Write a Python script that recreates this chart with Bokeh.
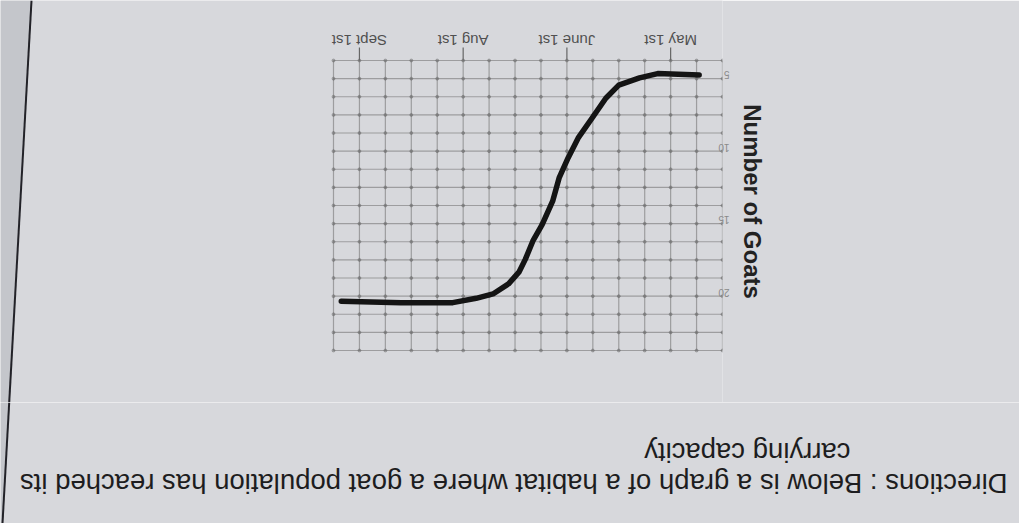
import math
from bokeh.plotting import figure
from bokeh.layouts import column
from bokeh.models import Range1d, FixedTicker, LinearAxis
from bokeh.core.properties import value
from bokeh.embed import file_html
from bokeh.resources import INLINE

# ---- data (read from the photographed, upside-down worksheet) ----
weeks = [0.9, 2.5, 3.2, 4.0, 4.5, 5.0, 5.55, 5.95, 6.3, 6.55, 6.95,
         7.3, 7.6, 7.85, 8.25, 8.85, 9.5, 10.4, 11.45, 12.4, 14.7]
goats = [5.0, 4.9, 5.2, 5.7, 6.6, 7.9, 9.3, 10.7, 12.1, 13.7, 15.3,
         16.4, 17.7, 18.6, 19.4, 20.1, 20.4, 20.7, 20.7, 20.7, 20.6]
date_ticks = [2, 6, 10, 14]
date_labels = ["May 1st", "June 1st", "Aug 1st", "Sept 1st"]
goat_ticks = [5, 10, 15, 20]
goat_labels = ["5", "10", "15", "20"]
week_cells = list(range(0, 16))
goat_cells = [4 + 1.25 * k for k in range(17)]
directions_1 = "Directions : Below is a graph of a habitat where a goat population has reached its"
directions_2 = "carrying capacity"

# ---- page layout (pixels) ----
W, H = 1019, 523
CHART_BOTTOM = 402                      # chart figure covers page y 0..402
GRID_L, GRID_R, GRID_T, GRID_B = 333, 722, 60, 350
EDGE_X_TOP, EDGE_X_BOTTOM = 31, 2       # slanted page edge in the photo
TICK_TOP, LABEL_Y = 47, 40

paper = "#d7d8dc"
shade = "#c4c6cb"
ink = "#1d1d20"
grid_col = "#777777"

# data ranges (x and y reversed: the sheet was photographed upside down)
x_lo, x_hi = week_cells[0], week_cells[-1]
y_lo, y_hi = goat_cells[0], goat_cells[-1]
px_x = (GRID_R - GRID_L) / (x_hi - x_lo)
px_y = (GRID_B - GRID_T) / (y_hi - y_lo)
x_range = Range1d(x_hi + GRID_L / px_x, x_lo)
y_range = Range1d(y_hi + (CHART_BOTTOM - GRID_B) / px_y, y_lo - GRID_T / px_y)


def edge_x(y):
    return EDGE_X_TOP + (EDGE_X_BOTTOM - EDGE_X_TOP) * y / H


def draw_edge(f, y_top, y_bot, **kw):
    f.patch([0, edge_x(y_top), edge_x(y_bot), 0], [y_top, y_top, y_bot, y_bot],
            fill_color=shade, line_color=None, **kw)
    f.line([edge_x(y_top), edge_x(y_bot)], [y_top, y_bot],
           line_color="#222228", line_width=2, **kw)


# ---- main chart ----
p = figure(width=W, height=CHART_BOTTOM, x_range=x_range, y_range=y_range,
           x_axis_location=None, y_axis_location=None,
           output_backend="svg", toolbar_location=None,
           min_border_left=0, min_border_top=0, min_border_bottom=0,
           min_border_right=W - GRID_R, frame_align=False,
           background_fill_color=paper, border_fill_color=paper,
           outline_line_color=None)
p.grid.visible = False
p.extra_x_ranges = {"page": Range1d(0, GRID_R)}
p.extra_y_ranges = {"page": Range1d(CHART_BOTTOM, 0)}

draw_edge(p, 0, CHART_BOTTOM, x_range_name="page", y_range_name="page")

# graph-paper grid
n_x, n_y = len(week_cells), len(goat_cells)
p.segment(x0=week_cells, y0=[y_lo] * n_x, x1=week_cells, y1=[y_hi] * n_x,
          line_color=grid_col, line_alpha=0.6, line_width=1.2)
p.segment(x0=[x_lo] * n_y, y0=goat_cells, x1=[x_hi] * n_y, y1=goat_cells,
          line_color=grid_col, line_alpha=0.6, line_width=1.2)
p.scatter(x=[gx for gx in week_cells for gy in goat_cells],
          y=[gy for gx in week_cells for gy in goat_cells],
          size=3, color="#555555", alpha=0.35)

# date ticks and upside-down date labels
p.segment(x0=date_ticks, y0=[TICK_TOP] * len(date_ticks),
          x1=date_ticks, y1=[GRID_T] * len(date_ticks),
          y_range_name="page", line_color="#666666", line_width=1.2)
p.text(x=date_ticks, y=[LABEL_Y] * len(date_ticks), text=date_labels,
       y_range_name="page", angle=math.pi,
       text_align="center", text_baseline="middle",
       text_font=value("Liberation Sans"), text_font_size="15px",
       text_color="#505050")

yaxis = LinearAxis(ticker=FixedTicker(ticks=goat_ticks),
                   major_label_overrides=dict(zip(goat_ticks, goat_labels)),
                   major_label_orientation=math.pi,
                   major_label_text_font="Liberation Sans",
                   major_label_text_font_size="10px",
                   major_label_text_color="#8a8a8a",
                   major_label_standoff=1,
                   major_tick_line_color=None, minor_tick_line_color=None,
                   axis_line_color=None,
                   axis_label="Number of Goats",
                   axis_label_text_font="Liberation Sans",
                   axis_label_text_font_style="bold",
                   axis_label_text_font_size="24px",
                   axis_label_text_color="#222222",
                   axis_label_standoff=-5)
p.add_layout(yaxis, "right")

p.line(weeks, goats, line_width=5.5, color="#141414",
       line_join="round", line_cap="round")

# ---- bottom: upside-down directions ----
bottom = figure(width=W, height=H - CHART_BOTTOM,
                x_range=Range1d(0, W), y_range=Range1d(H, CHART_BOTTOM),
                x_axis_location=None, y_axis_location=None,
                output_backend="svg", toolbar_location=None, min_border=0,
                frame_align=False,
                background_fill_color=paper, border_fill_color=paper,
                outline_line_color=None)
bottom.grid.visible = False
draw_edge(bottom, CHART_BOTTOM, H)
bottom.text(x=[1007, 850], y=[483, 452], text=[directions_1, directions_2],
            angle=math.pi, text_align="left", text_baseline="alphabetic",
            text_font=value("Liberation Sans"), text_font_size="27.5px",
            text_color=ink)

layout = column(p, bottom)
open("out.html", "w").write(file_html(layout, INLINE))
